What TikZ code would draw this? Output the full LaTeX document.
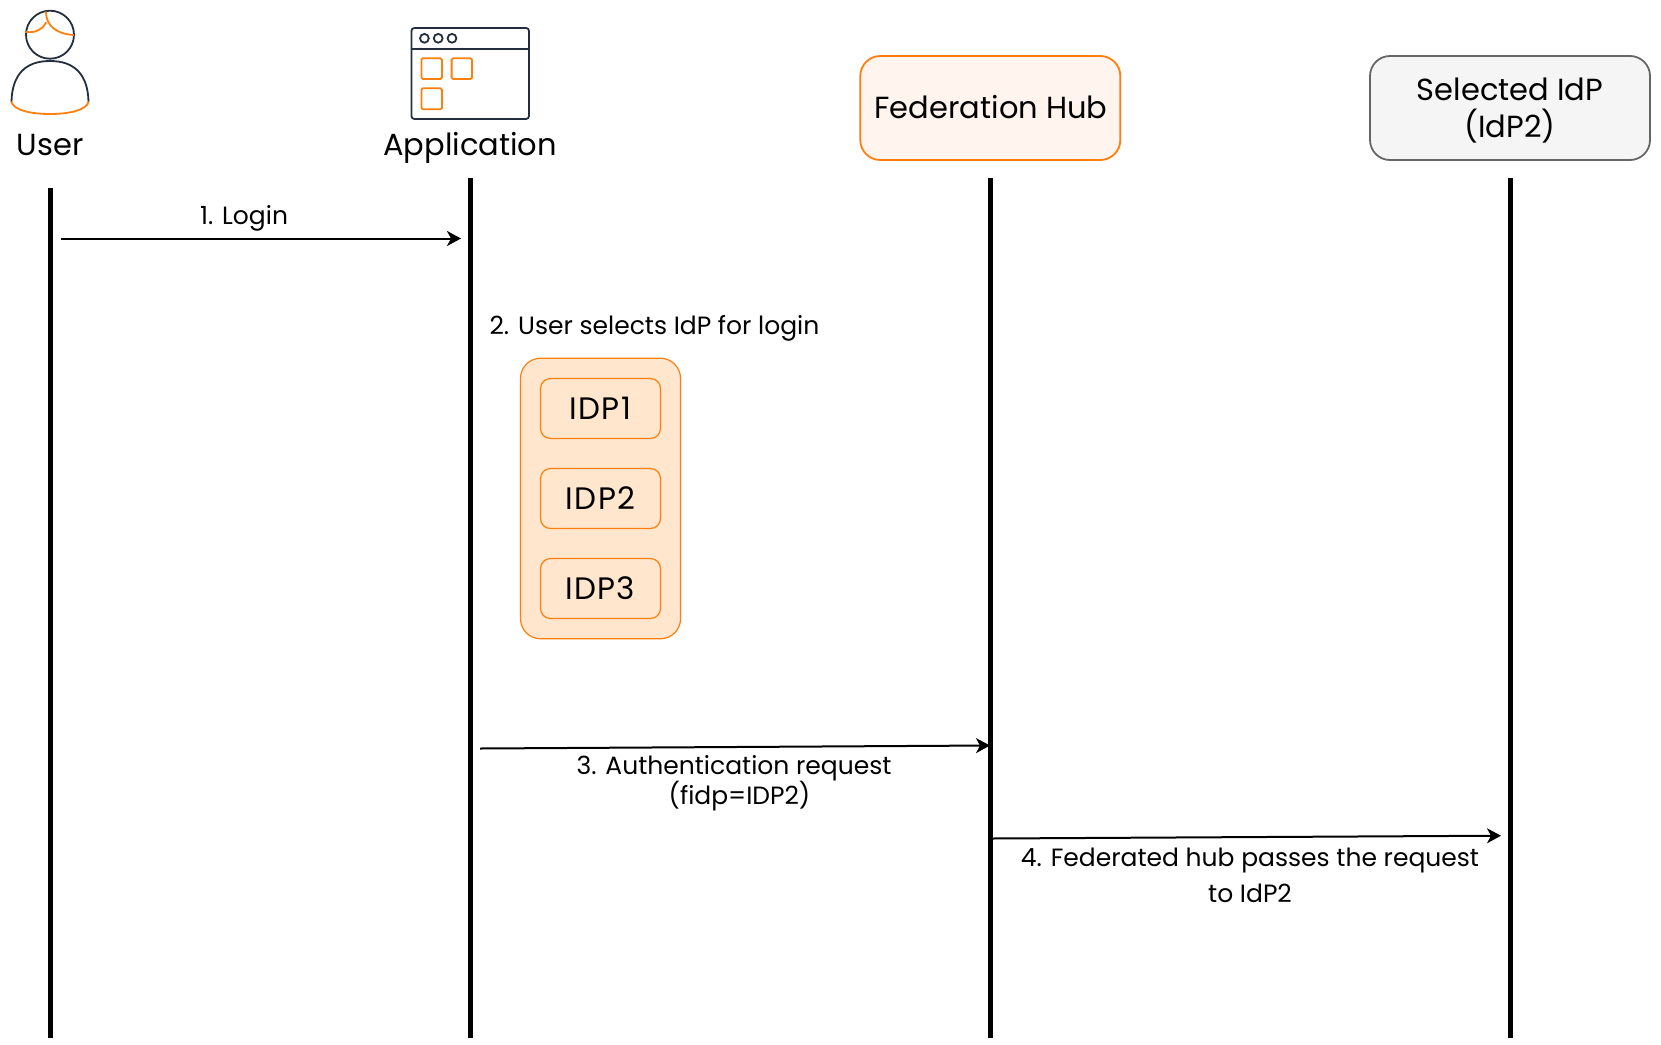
\documentclass[tikz,border=0pt]{standalone}
\usepackage{fontspec}
\setmainfont{Poppins}
\usetikzlibrary{arrows.meta}
\definecolor{orangeline}{HTML}{FF7F0E}
\definecolor{orangefill}{HTML}{FFE6CC}
\definecolor{hubfill}{HTML}{FFF4EE}
\definecolor{idpfill}{HTML}{F5F5F5}
\definecolor{idpline}{HTML}{666666}
\definecolor{iconline}{HTML}{232F3E}
\begin{document}
\begin{tikzpicture}[x=1pt,y=-1pt]
		\tikzset{lifeline/.style = {line width=5pt, black}}
		\tikzset{message/.style = {line width=2pt, black, -{Stealth[length=14pt,width=15pt,inset=4pt]}}}
		\tikzset{biglabel/.style = {anchor=base, inner sep=0pt, align=center, font=\fontsize{30.5}{36}\selectfont}}
		\tikzset{idplabel/.style = {anchor=base, inner sep=0pt, font=\fontsize{31}{36}\selectfont\addfontfeature{LetterSpace=4}}}
		\tikzset{smalllabel/.style = {anchor=base, inner sep=0pt, font=\fontsize{25}{30}\selectfont}}
		\tikzset{actor/.style = {draw=#1, line width=1.8pt, rounded corners=20pt, inner sep=0pt, minimum height=104pt}}
		\tikzset{idpbox/.style = {draw=orangeline, fill=orangefill, line width=1.2pt, rounded corners=10pt, inner sep=0pt, minimum width=120pt, minimum height=60pt}}
		\tikzset{iconpart/.style = {draw=iconline, line width=1.8pt}}
		\tikzset{iconmark/.style = {draw=orangeline, line width=1.8pt, line cap=round}}

		\useasboundingbox (0,0) rectangle (1661,1044);

		% user icon
		\node[iconpart, circle, inner sep=0pt, minimum size=48pt] (head) at (50,34.7) {};
		\draw[iconmark] (46,12) .. controls (46,26) and (57,34) .. (73.5,35);
		\draw[iconmark] (26,32) .. controls (35,33) and (42,30) .. (46,22.7);
		\draw[iconpart] (11.5,102) .. controls (12,75) and (25,61) .. (50,61) .. controls (75,61) and (88,75) .. (88.5,102);
		\draw[iconmark] (11.5,102) .. controls (14,110) and (30,114) .. (50,114) .. controls (70,114) and (86,110) .. (88.5,102);
		\node[biglabel] (user) at (50,155) {User};

		% application icon
		\draw[iconpart, rounded corners=3pt] (411.4,28) rectangle (529,119);
		\draw[iconpart] (411.4,48.7) -- (529,48.7);
		\foreach \x in {424.4,438.2,452}
			\draw[iconpart] (\x,38.3) circle (4.4pt);
		\draw[iconmark, rounded corners=1.5pt] (421.4,58.3) rectangle (442,79);
		\draw[iconmark, rounded corners=1.5pt] (451.6,58.3) rectangle (472,79);
		\draw[iconmark, rounded corners=1.5pt] (421.4,88.3) rectangle (442,109.3);
		\node[biglabel] (app) at (470,155) {Application};

		\node[actor=orangeline, fill=hubfill, minimum width=260pt] (hub) at (990.3,108) {};
		\node[biglabel] (hub_t) at (991,118) {Federation Hub};
		\node[actor=idpline, fill=idpfill, minimum width=280pt] (idp) at (1510,108) {};
		\node[biglabel] (idp_1) at (1510,100.5) {Selected IdP};
		\node[biglabel] (idp_2) at (1510,137) {(IdP2)};

		\coordinate (U_1) at (50,188);
		\coordinate (U_2) at (50,1038);
		\coordinate (A_1) at (470,178);
		\coordinate (A_2) at (470,1038);
		\coordinate (H_1) at (990.5,178);
		\coordinate (H_2) at (990.5,1038);
		\coordinate (I_1) at (1510,178);
		\coordinate (I_2) at (1510,1038);

		\draw[lifeline] (U_1)--(U_2);
		\draw[lifeline] (A_1)--(A_2);
		\draw[lifeline] (H_1)--(H_2);
		\draw[lifeline] (I_1)--(I_2);

		\node[draw=orangeline, fill=orangefill, line width=1.2pt, rounded corners=20pt, inner sep=0pt, minimum width=160pt, minimum height=280.5pt] (list) at (600.5,498.5) {};
		\node[idpbox] (idp1) at (600.5,408.5) {};
		\node[idpbox] (idp2) at (600.5,498.5) {};
		\node[idpbox] (idp3) at (600.5,588.5) {};
		\node[idplabel] (idp1_t) at (600.5,419.5) {IDP1};
		\node[idplabel] (idp2_t) at (600.5,509.5) {IDP2};
		\node[idplabel] (idp3_t) at (600.5,599.5) {IDP3};

		\coordinate (m1_a) at (60.5,238.5);
		\coordinate (m1_b) at (461,238.5);
		\coordinate (m3_a) at (480,748.5);
		\coordinate (m3_b) at (990,745.5);
		\coordinate (m4_a) at (992,838.5);
		\coordinate (m4_b) at (1501,835.7);

		\draw[message] (m1_a)--(m1_b);
		\draw[message] (m3_a)--(m3_b);
		\draw[message] (m4_a)--(m4_b);

		\node[smalllabel] (t1) at (244,224.5) {1. Login};
		\node[smalllabel] (t2) at (654.5,334) {2. User selects IdP for login};
		\node[smalllabel] (t3) at (734,774) {3. Authentication request};
		\node[smalllabel] (t3b) at (739.5,804) {(fidp=IDP2)};
		\node[smalllabel] (t4) at (1250,866) {4. Federated hub passes the request};
		\node[smalllabel] (t4b) at (1250,902.7) {to IdP2};
	\end{tikzpicture}
\end{document}
